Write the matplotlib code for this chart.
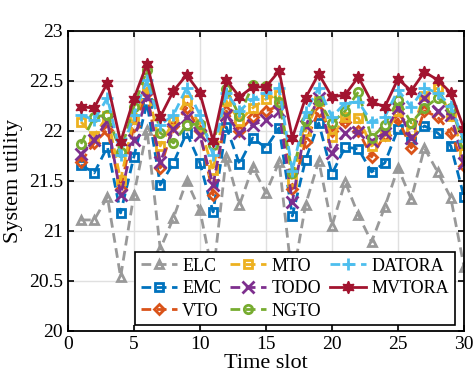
import numpy as np
import matplotlib
matplotlib.use('Agg')
import matplotlib.pyplot as plt

plt.rcParams['font.family'] = ['Liberation Serif', 'DejaVu Serif']

# Data
slots = list(range(1, 31))

elc = [21.11, 21.11, 21.34, 20.54, 21.36, 22.01, 20.82, 21.13, 21.50, 21.21,
       20.55, 21.74, 21.26, 21.64, 21.38, 21.69, 20.50, 21.26, 21.70, 21.05,
       21.49, 21.16, 20.89, 21.24, 21.63, 21.32, 21.83, 21.59, 21.33, 20.64]
emc = [21.66, 21.58, 21.84, 21.18, 21.74, 22.28, 21.46, 21.68, 21.98, 21.68,
       21.19, 22.04, 21.67, 21.93, 21.83, 22.03, 21.15, 21.71, 22.08, 21.57,
       21.84, 21.82, 21.59, 21.68, 22.02, 21.92, 22.05, 21.98, 21.85, 21.34]
vto = [21.69, 21.88, 22.01, 21.42, 22.05, 22.38, 21.63, 22.05, 22.23, 22.00,
       21.36, 22.20, 22.00, 22.14, 22.20, 22.25, 21.42, 21.89, 22.20, 22.00,
       22.09, 22.00, 21.74, 21.96, 22.12, 21.83, 22.20, 22.14, 21.98, 21.65]
mto = [22.09, 21.95, 22.15, 21.51, 22.12, 22.43, 21.85, 22.10, 22.31, 22.05,
       21.61, 22.30, 22.10, 22.23, 22.32, 22.36, 21.50, 22.00, 22.30, 21.94,
       22.14, 22.13, 21.85, 21.95, 22.20, 22.00, 22.35, 22.43, 22.15, 21.78]
todo = [21.77, 21.91, 22.10, 21.36, 21.91, 22.34, 21.69, 22.02, 22.14, 21.96,
        21.46, 22.16, 21.98, 22.06, 22.11, 22.20, 21.29, 22.05, 22.33, 21.78,
        21.98, 21.99, 21.90, 21.98, 22.23, 21.93, 22.33, 22.20, 22.16, 21.68]
ngto = [21.87, 22.14, 22.16, 21.79, 22.24, 22.61, 21.98, 21.88, 22.06, 22.07,
        21.86, 22.42, 22.15, 22.46, 22.45, 22.29, 21.58, 22.10, 22.30, 22.08,
        22.20, 22.39, 21.93, 22.06, 22.31, 22.08, 22.23, 22.33, 22.23, 21.88]
datora = [22.16, 22.11, 22.33, 21.76, 22.16, 22.51, 22.06, 22.16, 22.43, 22.16,
          21.76, 22.38, 22.20, 22.32, 22.38, 22.43, 21.60, 22.19, 22.43, 22.14,
          22.28, 22.29, 22.09, 22.14, 22.41, 22.24, 22.43, 22.38, 22.25, 21.90]
mvtora = [22.24, 22.23, 22.48, 21.89, 22.32, 22.67, 22.14, 22.40, 22.56, 22.38,
          21.90, 22.51, 22.34, 22.44, 22.44, 22.60, 21.93, 22.33, 22.57, 22.34,
          22.36, 22.54, 22.29, 22.24, 22.52, 22.40, 22.59, 22.51, 22.38, 22.02]

# name, values, colour, marker, linestyle
series = [
    ('ELC', elc, (0.6, 0.6, 0.6), '^', '--'),
    ('EMC', emc, (0.0, 0.447, 0.741), 's', '--'),
    ('VTO', vto, (0.85, 0.325, 0.098), 'D', '--'),
    ('MTO', mto, (0.929, 0.694, 0.125), 's', '--'),
    ('TODO', todo, (0.494, 0.184, 0.556), 'x', '--'),
    ('NGTO', ngto, (0.466, 0.674, 0.188), 'o', '--'),
    ('DATORA', datora, (0.301, 0.745, 0.933), '+', '--'),
    ('MVTORA', mvtora, (0.635, 0.078, 0.184), (6, 1, 0), '-'),
]

fig = plt.figure(figsize=(4.74, 3.86), dpi=100)
ax = fig.add_axes([0.143, 0.1425, 0.836, 0.7775])

for name, vals, col, mk, ls in series:
    filled = name == 'MVTORA'
    ms = 8 if mk in ('x', '+') else 6
    if mk == 'D':
        ms = 5.5
    if filled:
        ms = 9
    line, = ax.plot(slots, vals, color=col, linestyle=ls, linewidth=2,
                    marker=mk, ms=ms, mew=2 if not filled else 1,
                    mfc=col if filled else 'none', mec=col, label=name)
    if ls == '--':
        line.set_dashes((3.5, 2))

ax.set_xlim(0, 30)
ax.set_ylim(20, 23)
ax.set_xticks([0, 5, 10, 15, 20, 25, 30])
ax.set_yticks([20, 20.5, 21, 21.5, 22, 22.5, 23])
ax.set_yticklabels(['20', '20.5', '21', '21.5', '22', '22.5', '23'])
ax.grid(True, color=(0.88, 0.88, 0.88), linewidth=1)
ax.set_axisbelow(True)
ax.tick_params(direction='in', top=True, right=True, labelsize=14, length=4, width=1.2)
for s in ax.spines.values():
    s.set_linewidth(1.3)

ax.set_xlabel('Time slot', fontsize=16, labelpad=1)
ax.set_ylabel('System utility', fontsize=16, labelpad=4)

leg = ax.legend(ncol=3, loc='lower right', bbox_to_anchor=(0.977, 0.02),
                borderaxespad=0,
                fontsize=13, fancybox=False, edgecolor='black', framealpha=1,
                handlelength=2.0, handletextpad=0.3, columnspacing=0.5,
                labelspacing=0.3, borderpad=0.3)
leg.get_frame().set_linewidth(1.2)

fig.savefig('out.png', dpi=100)
